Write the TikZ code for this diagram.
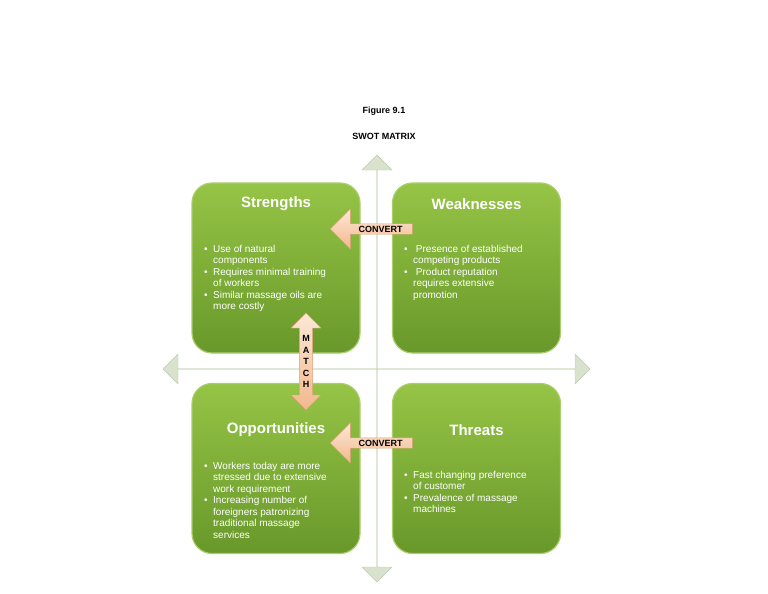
\documentclass[tikz,border=0pt]{standalone}
\usepackage{fontspec}
\setmainfont{Liberation Sans}
\usetikzlibrary{shapes.arrows}
\definecolor{boxtop}{RGB}{150,196,70}
\definecolor{boxbot}{RGB}{104,152,42}
\definecolor{boxline}{RGB}{170,205,110}
\definecolor{axisfill}{RGB}{216,226,204}
\definecolor{axisline}{RGB}{190,205,175}
\definecolor{peachtop}{RGB}{253,232,214}
\definecolor{peachbot}{RGB}{242,184,142}
\definecolor{peachline}{RGB}{225,160,120}
\newcommand{\itm}{\makebox[9pt][l]{\textbullet}}
\newcommand{\ind}{\hspace*{9pt}}

\begin{document}
\begin{tikzpicture}[x=1pt,y=-1pt,
  quad/.style={rounded corners=20pt,top color=boxtop,bottom color=boxbot,draw=boxline,line width=1.2pt,minimum width=168pt,minimum height=170pt},
  head/.style={text=white,font=\bfseries\fontsize{15}{18}\selectfont},
  body/.style={text=white,align=left,anchor=north west,inner sep=0pt,font=\fontsize{10}{11.5}\selectfont},
  axis/.style={double arrow,fill=axisfill,draw=axisline,minimum width=30pt,double arrow head extend=10pt,inner sep=0pt},
  conv/.style={single arrow,shape border rotate=180,top color=peachtop,bottom color=peachbot,draw=peachline,minimum height=82pt,minimum width=40pt,single arrow head extend=9.5pt,inner sep=0pt,text depth=0pt,font=\bfseries\fontsize{9}{10}\selectfont}]
\useasboundingbox (0,0) rectangle (768,594);

\node[font=\bfseries\fontsize{9}{10}\selectfont] (fig) at (384,111) {Figure 9.1};
\node[font=\bfseries\fontsize{9}{10}\selectfont] (ttl) at (384,136) {SWOT MATRIX};

% axes
\node[axis,minimum height=427pt,shape border rotate=90] (vaxis) at (377,368.5) {};
\node[axis,minimum height=427pt] (haxis) at (376.5,369) {};

% quadrants
\node[quad] (str) at (276,268) {};
\node[quad] (wea) at (476.5,268) {};
\node[quad] (opp) at (276,468.5) {};
\node[quad] (thr) at (476.5,468.5) {};

\node[head] at (276,204) {Strengths};
\node[head] at (476.5,204) {Weaknesses};
\node[head] at (276,430) {Opportunities};
\node[head] at (476.5,430) {Threats};

\node[body] at (204,245) {\itm Use of natural\\ \ind components\\ \itm Requires minimal training\\ \ind of workers\\ \itm Similar massage oils are\\ \ind more costly};
\node[body] at (404,245) {\itm\ Presence of established\\ \ind competing products\\ \itm\ Product reputation\\ \ind requires extensive\\ \ind promotion};
\node[body] at (204,462) {\itm Workers today are more\\ \ind stressed due to extensive\\ \ind work requirement\\ \itm Increasing number of\\ \ind foreigners patronizing\\ \ind traditional massage\\ \ind services};
\node[body] at (404,471) {\itm Fast changing preference\\ \ind of customer\\ \itm Prevalence of massage\\ \ind machines};

% convert / match
\node[conv] (c1) at (374,229) {\hspace*{13pt}CONVERT};
\node[conv] (c2) at (374,443) {\hspace*{13pt}CONVERT};
\node[double arrow,shape border rotate=90,top color=peachtop,bottom color=peachbot,draw=peachline,minimum height=97pt,minimum width=30pt,double arrow head extend=5pt,inner sep=0pt,align=center,font=\bfseries\fontsize{9}{11.5}\selectfont] (match) at (306,361.5) {M\\A\\T\\C\\H};
\end{tikzpicture}
\end{document}
